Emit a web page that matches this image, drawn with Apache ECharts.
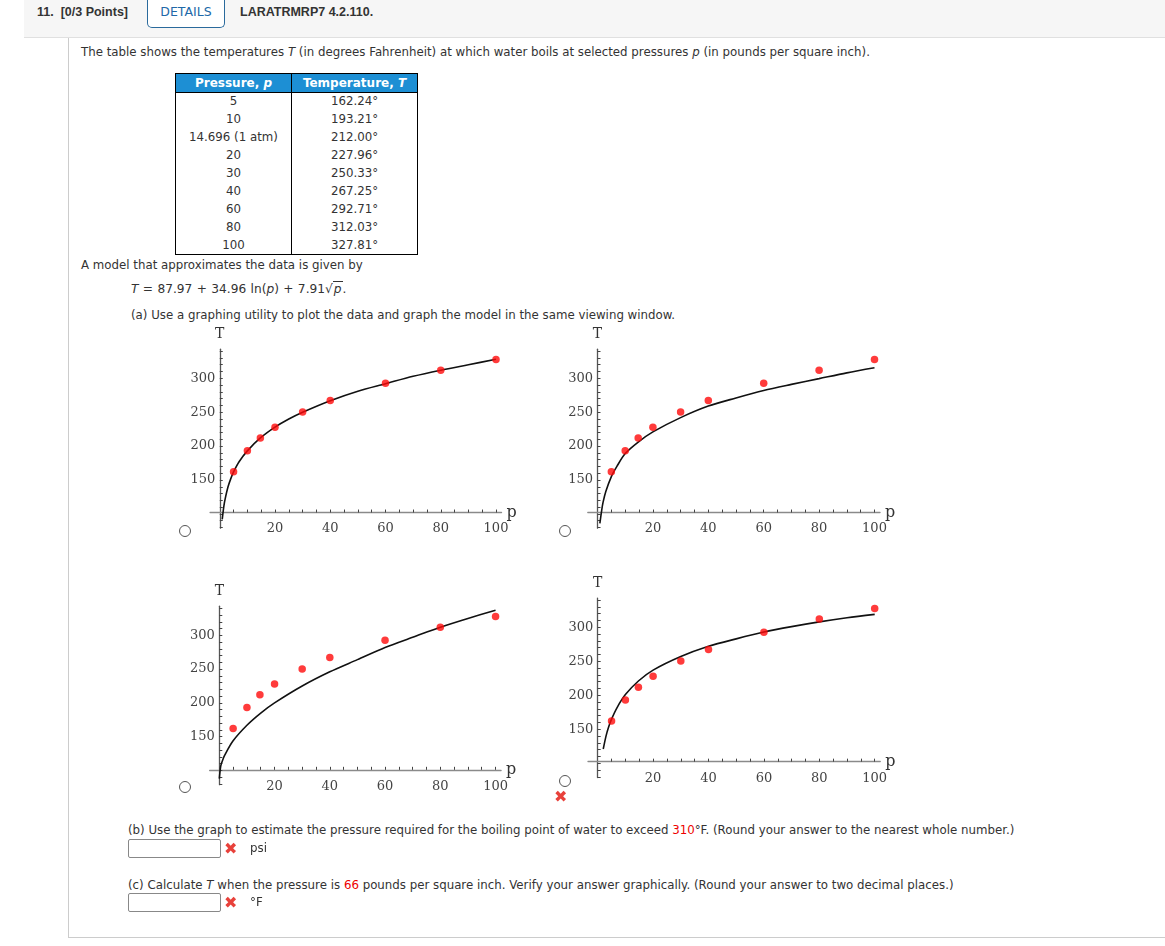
<!DOCTYPE html>
<html>
<head>
<meta charset="utf-8">
<script src="https://cdn.jsdelivr.net/npm/echarts@6/dist/echarts.min.js"></script>
<style>
  html, body { margin:0; padding:0; background:#fff; }
  body { width:1165px; height:946px; position:relative; overflow:hidden;
         font-family:"DejaVu Sans", Verdana, sans-serif; font-size:11.8px; color:#333; }
  .abs { position:absolute; white-space:nowrap; line-height:16px; }
  .hb { font-family:"Liberation Sans", Arial, sans-serif; font-weight:bold; font-size:12.5px; color:#333; }
  #hdr { position:absolute; left:24px; top:0; width:1141px; height:37px; background:#f6f6f6; border-bottom:1px solid #e0e0e0; }
  #box { position:absolute; left:68px; top:38px; width:1100px; height:899px; border-left:1px solid #ccc; border-bottom:1px solid #ccc; }
  #det { position:absolute; left:147px; top:-3px; width:76px; height:30px; border:1px solid #2a6a9c; border-top:none; border-radius:0 0 5px 5px; background:#fff;
         color:#2068a8; font-size:12.5px; text-align:center; line-height:30px; }
  table.t { position:absolute; left:175px; top:73px; border-collapse:collapse; border:1px solid #000; font-size:11.8px; color:#333; }
  table.t th { background:#1d8fd4; color:#fff; font-weight:bold; height:18px; padding:0; border:1px solid #000; font-size:12px; }
  table.t td { text-align:center; height:17.9px; padding:0; line-height:17px; border-left:1px solid #000; border-right:1px solid #000; }
  .chart { position:absolute; width:360px; height:230px; }
  .radio { position:absolute; width:10px; height:10px; border:1px solid #555; border-radius:50%; background:#fff; }
  .inp { position:absolute; width:91px; height:17px; border:1px solid #888; border-radius:2px; background:#fff; }
  .xr { position:absolute; color:#e8413b; font-size:16px; line-height:16px; font-weight:bold; }
  .red { color:#e00; }
</style>
</head>
<body>
<div id="hdr"></div>
<div id="box"></div>
<div class="abs hb" style="left:37px;top:4px;">11.&nbsp; [0/3 Points]</div>
<div id="det">DETAILS</div>
<div class="abs hb" style="left:240px;top:4px;">LARATRMRP7 4.2.110.</div>

<div class="abs" style="left:81px;top:44px;">The table shows the temperatures <i>T</i> (in degrees Fahrenheit) at which water boils at selected pressures <i>p</i> (in pounds per square inch).</div>

<table class="t" id="tbl">
  <thead><tr><th style="width:115px;">Pressure, <i>p</i></th><th style="width:125px;">Temperature, <i>T</i></th></tr></thead>
  <tbody id="tbody"></tbody>
</table>

<div class="abs" style="left:81px;top:257px;">A model that approximates the data is given by</div>
<div class="abs" style="left:131px;top:281px;font-size:12.2px;word-spacing:0.5px;"><i>T</i> = 87.97 + 34.96 ln(<i>p</i>) + 7.91&#8730;<span style="border-top:1px solid #333;padding:0 1px;"><i>p</i></span>.</div>
<div class="abs" style="left:131px;top:307px;">(a) Use a graphing utility to plot the data and graph the model in the same viewing window.</div>

<div class="chart" id="c1" style="left:170px;top:320px;"></div>
<div class="chart" id="c2" style="left:550px;top:320px;"></div>
<div class="chart" id="c3" style="left:170px;top:570px;"></div>
<div class="chart" id="c4" style="left:550px;top:570px;"></div>

<div class="radio" style="left:179px;top:525px;"></div>
<div class="radio" style="left:559px;top:525px;"></div>
<div class="radio" style="left:179px;top:781px;"></div>
<div class="radio" style="left:559px;top:775px;"></div>
<div class="xr" style="left:554px;top:789px;">&#10006;</div>

<div class="abs" style="left:128px;top:822px;">(b) Use the graph to estimate the pressure required for the boiling point of water to exceed <span class="red">310</span>°F. (Round your answer to the nearest whole number.)</div>
<div class="inp" style="left:128px;top:839px;"></div>
<div class="xr" style="left:224px;top:841px;">&#10006;</div>
<div class="abs" style="left:250px;top:840px;">psi</div>

<div class="abs" style="left:128px;top:877px;">(c) Calculate <i>T</i> when the pressure is <span class="red">66</span> pounds per square inch. Verify your answer graphically. (Round your answer to two decimal places.)</div>
<div class="inp" style="left:128px;top:893px;"></div>
<div class="xr" style="left:224px;top:895px;">&#10006;</div>
<div class="abs" style="left:250px;top:894px;">°F</div>

<script>
// ---- data ----
const pressureLabels = ["5", "10", "14.696 (1 atm)", "20", "30", "40", "60", "80", "100"];
const pressures = [5, 10, 14.696, 20, 30, 40, 60, 80, 100];
const temperatures = [162.24, 193.21, 212.00, 227.96, 250.33, 267.25, 292.71, 312.03, 327.81];

// curve readings (p, T) for each panel
const curve1P = [0.9, 1.5, 2, 3, 4, 5, 7, 10, 14.7, 20, 25, 30, 40, 50, 60, 70, 80, 90, 100];
const curve1T = [92, 112, 123, 140, 152, 162, 177, 193, 212, 228, 240, 250, 267, 281, 292, 303, 312, 320, 328];
const curve2P = [0.85, 1.5, 2, 3, 5, 7, 10, 14.7, 20, 30, 40, 50, 60, 70, 80, 90, 100];
const curve2T = [86, 105, 117, 133, 155, 170, 189, 206, 221, 242, 259, 271, 282, 291, 299.5, 308, 315.5];
const curve3P = [0, 0.5, 1, 2, 5, 10, 15, 20, 30, 40, 50, 60, 70, 80, 90, 100];
const curve3T = [88, 106, 113, 123, 144, 167, 185, 200, 225, 246, 264, 282, 297, 312, 325, 337];
const curve4P = [2, 3, 4, 5, 7, 10, 14.7, 20, 30, 40, 50, 60, 70, 80, 90, 100];
const curve4T = [121, 140, 154, 165, 182, 201, 221, 237, 257, 272, 283, 293, 301, 308, 314, 319];

const xTickValues = [5, 10, 15, 20, 25, 30, 35, 40, 45, 50, 55, 60, 65, 70, 75, 80, 85, 90, 95, 100];
const xLabelValues = [20, 40, 60, 80, 100];
const yTickValues = [80, 90, 100, 110, 120, 130, 140, 150, 160, 170, 180, 190, 200, 210, 220, 230, 240, 250, 260, 270, 280, 290, 300, 310, 320, 330, 340];
const yLabelValues = [150, 200, 250, 300];

// ---- table ----
const tb = document.getElementById('tbody');
pressureLabels.forEach((pl, i) => {
  const tr = document.createElement('tr');
  tr.innerHTML = '<td>' + pl + '</td><td>' + temperatures[i].toFixed(2) + '°</td>';
  tb.appendChild(tr);
});

// ---- charts ----
const SERIF = '"DejaVu Serif", "Liberation Serif", serif';
const X_MIN = -3.5, X_MAX = 102, Y_MIN = 79, Y_MAX = 343;

function makeChart(id, P, T, lay) {
  const ch = echarts.init(document.getElementById(id), null, {renderer: 'canvas'});
  const w = (X_MAX - X_MIN) * lay.xs;
  const h = (Y_MAX - Y_MIN) * lay.ys;
  const top = lay.y300 - (Y_MAX - 300) * lay.ys;
  const left = lay.x0 + X_MIN * lay.xs;
  const offset = -(lay.cross - Y_MIN) * lay.ys;
  ch.setOption({
    animation: false,
    grid: {left: left, top: top, width: w, height: h},
    xAxis: {
      type: 'value', min: X_MIN, max: X_MAX, offset: offset,
      name: 'p', nameLocation: 'end', nameGap: 5,
      nameTextStyle: {fontFamily: SERIF, fontSize: 16, color: '#333', padding: [6, 0, 0, 0]},
      axisLine: {onZero: false, lineStyle: {color: '#8a8a8a', width: 1.3}},
      axisTick: {show: true, inside: true, length: 3, customValues: xTickValues, lineStyle: {color: '#444', width: 1}},
      axisLabel: {customValues: xLabelValues, fontFamily: SERIF, fontSize: 13, color: '#444', margin: 10},
      splitLine: {show: false}
    },
    yAxis: {
      type: 'value', min: Y_MIN, max: Y_MAX,
      name: 'T', nameLocation: 'end', nameGap: 8,
      nameTextStyle: {fontFamily: SERIF, fontSize: 14, color: '#333'},
      axisLine: {show: true, onZero: true, lineStyle: {color: '#555', width: 1.3}},
      axisTick: {show: true, inside: true, length: 3, customValues: yTickValues, lineStyle: {color: '#444', width: 1}},
      axisLabel: {customValues: yLabelValues, fontFamily: SERIF, fontSize: 13, color: '#444', margin: 4.5 + X_MIN * lay.xs},
      splitLine: {show: false}
    },
    series: [
      {type: 'line', data: P.map((p, i) => [p, T[i]]), smooth: 0.3, showSymbol: false,
       lineStyle: {color: '#111', width: 1.6}, z: 2},
      {type: 'scatter', data: pressures.map((p, i) => [p, temperatures[i]]), symbolSize: 7.5,
       itemStyle: {color: '#ff0a0a'}, z: 3}
    ]
  });
}

makeChart('c1', curve1P, curve1T, {x0: 49.75, xs: 2.7625, y300: 58.3, ys: 0.678, cross: 102});
makeChart('c2', curve2P, curve2T, {x0: 47.5, xs: 2.77, y300: 58.3, ys: 0.678, cross: 102});
makeChart('c3', curve3P, curve3T, {x0: 49.3, xs: 2.7625, y300: 65.3, ys: 0.676, cross: 101});
makeChart('c4', curve4P, curve4T, {x0: 47.7, xs: 2.77, y300: 57.3, ys: 0.68, cross: 102.4});
</script>
</body>
</html>
